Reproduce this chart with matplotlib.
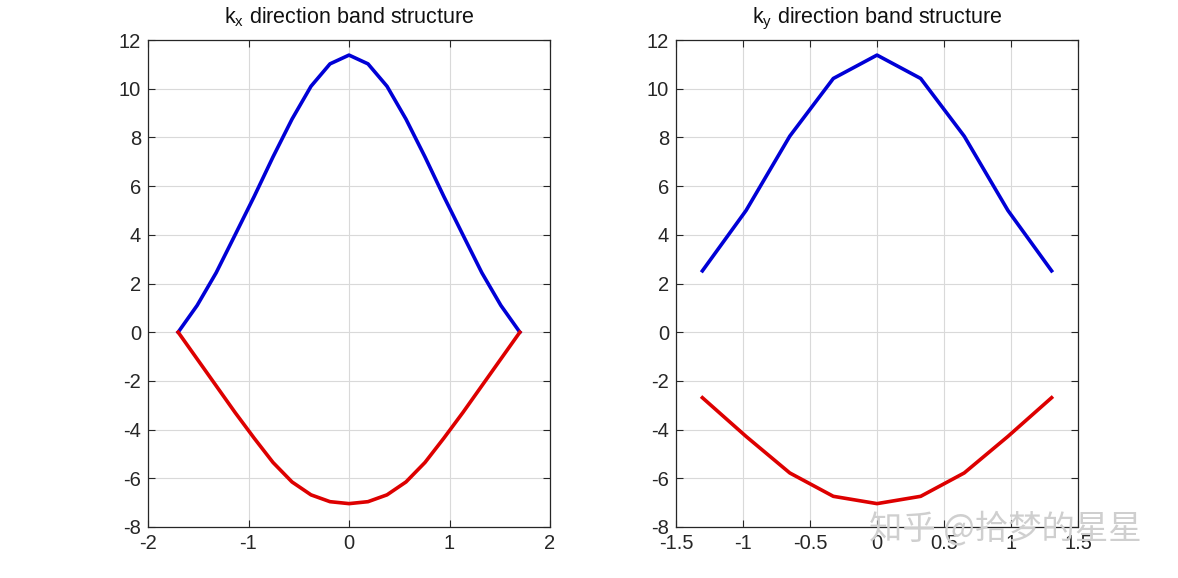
import matplotlib
matplotlib.use("Agg")
import matplotlib.pyplot as plt

# ---- data ----
kx = [-1.70, -1.511, -1.322, -1.133, -0.944, -0.756, -0.567, -0.378, -0.189, 0.0,
      0.189, 0.378, 0.567, 0.756, 0.944, 1.133, 1.322, 1.511, 1.70]
kx_upper = [0.0, 1.10, 2.44, 4.00, 5.57, 7.20, 8.75, 10.10, 11.02, 11.38,
            11.02, 10.10, 8.75, 7.20, 5.57, 4.00, 2.44, 1.10, 0.0]
kx_lower = [0.0, -1.10, -2.20, -3.30, -4.35, -5.35, -6.15, -6.68, -6.96, -7.04,
            -6.96, -6.68, -6.15, -5.35, -4.35, -3.30, -2.20, -1.10, 0.0]

ky = [-1.303, -0.977, -0.651, -0.326, 0.0, 0.326, 0.651, 0.977, 1.303]
ky_upper = [2.52, 5.00, 8.05, 10.42, 11.38, 10.42, 8.05, 5.00, 2.52]
ky_lower = [-2.69, -4.28, -5.78, -6.74, -7.04, -6.74, -5.78, -4.28, -2.69]

titles = ["k$_{\\mathregular{x}}$ direction band structure",
          "k$_{\\mathregular{y}}$ direction band structure"]
xticks_left = [-2, -1, 0, 1, 2]
xticks_right = [-1.5, -1, -0.5, 0, 0.5, 1, 1.5]
yticks = [-8, -6, -4, -2, 0, 2, 4, 6, 8, 10, 12]

plt.rcParams['font.family'] = ['Liberation Sans', 'DejaVu Sans']
plt.rcParams['mathtext.fontset'] = 'custom'
plt.rcParams['mathtext.rm'] = 'Liberation Sans'

W, H = 1178, 578
fig = plt.figure(figsize=(W / 100, H / 100), dpi=100)

axL = fig.add_axes([148 / W, 1 - 527 / H, 402 / W, 487 / H])
axR = fig.add_axes([676 / W, 1 - 527 / H, 402 / W, 487 / H])

blue = '#0000d6'
red = '#dd0000'
lw = 2.6

axL.plot(kx, kx_upper, color=blue, lw=lw, solid_joinstyle='round')
axL.plot(kx, kx_lower, color=red, lw=lw, solid_joinstyle='round')
axR.plot(ky, ky_upper, color=blue, lw=lw, solid_joinstyle='round')
axR.plot(ky, ky_lower, color=red, lw=lw, solid_joinstyle='round')

for ax, xt, xl, title in [(axL, xticks_left, (-2, 2), titles[0]),
                          (axR, xticks_right, (-1.5, 1.5), titles[1])]:
    ax.set_xlim(*xl)
    ax.set_ylim(-8, 12)
    ax.set_xticks(xt)
    ax.set_xticklabels([('%g' % v) for v in xt])
    ax.set_yticks(yticks)
    ax.set_yticklabels([('%g' % v) for v in yticks])
    ax.grid(True, color='#d9d9d9', lw=0.8)
    ax.set_axisbelow(True)
    ax.tick_params(direction='in', length=5, width=0.8, top=True, right=True,
                   labelsize=14.5, colors='#262626', pad=5)
    for sp in ax.spines.values():
        sp.set_color('#262626')
        sp.set_linewidth(0.9)
    ax.set_title(title, fontsize=15.5, color='#111111', pad=12)

fig.text(1005 / W, 1 - 529 / H, "知乎 @拾梦的星星", fontsize=24,
         family=['Noto Sans CJK SC', 'DejaVu Sans'], color='#cfcfcf',
         ha='center', va='center')

fig.savefig('out.png', dpi=100)
